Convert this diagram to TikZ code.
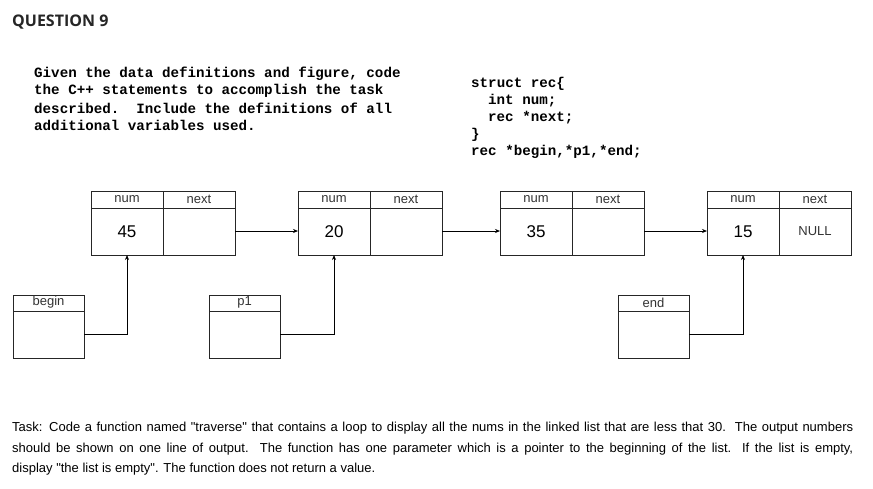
\documentclass[tikz,border=0pt]{standalone}
\usepackage{fontspec}
\setmainfont{Liberation Sans}
\newfontfamily\hdr{Open Sans}
\newfontfamily\cour{Liberation Mono}
\usetikzlibrary{arrows.meta}
\begin{document}
\begin{tikzpicture}[x=1pt,y=-1pt,
  bx/.style={draw=black!85,line width=0.7pt},
  hd/.style={font=\fontsize{13}{14}\selectfont,inner sep=0pt,text=black!80},
  val/.style={font=\fontsize{17}{18}\selectfont,inner sep=0pt},
  code/.style={font=\cour\bfseries\fontsize{14.2}{17}\selectfont,anchor=west,inner sep=0pt},
  task/.style={font=\fontsize{13}{14}\selectfont,anchor=west,inner sep=0pt},
  arr/.style={-{Stealth[length=5pt,width=4pt]},line width=0.7pt}]
\useasboundingbox[fill=white] (0,0) rectangle (873,488);
\node[anchor=west,inner sep=0pt,font=\hdr\bfseries\fontsize{16}{18}\selectfont,text=black!85] (q) at (12,22) {QUESTION 9};
\node[code] (g1) at (34,74) {Given the data definitions and figure, code};
\node[code] (g2) at (34,91) {the C++ statements to accomplish the task};
\node[code] (g3) at (34,108) {described.\ \ Include the definitions of all};
\node[code] (g4) at (34,125) {additional variables used.};
\node[code] (s1) at (471,84) {struct rec\{};
\node[code] (s2) at (488,101) {int num;};
\node[code] (s3) at (488,118) {rec *next;};
\node[code] (s4) at (471,135) {\}};
\node[code] (s5) at (471,152) {rec *begin,*p1,*end;};
% list nodes
\foreach \n/\x/\v in {a/91/45,b/298/20,c/500/35,d/707/15}{
  \draw[bx] (\x,191) rectangle (\x+144,255);
  \draw[bx] (\x,208) -- (\x+144,208);
  \draw[bx] (\x+72,191) -- (\x+72,255);
  \node[hd] (\n num) at (\x+36,199.5) {num};
  \node[hd] (\n nx) at (\x+108,199.5) {next};
  \node[val] (\n v) at (\x+36,231.5) {\v};
  \coordinate (\n L) at (\x,231);
  \coordinate (\n R) at (\x+144,231);
  \coordinate (\n B) at (\x+36,255);
}
\node[hd] (nul) at (815,231) {NULL};
\draw[arr] (aR) -- (bL);
\draw[arr] (bR) -- (cL);
\draw[arr] (cR) -- (dL);
% pointer boxes
\foreach \n/\x/\t in {pb/13/begin,pp/209/p1,pe/618/end}{
  \draw[bx] (\x,295) rectangle (\x+71,358);
  \draw[bx] (\x,311) -- (\x+71,311);
  \node[hd] (\n t) at (\x+35.5,302.5) {\t};
  \coordinate (\n R) at (\x+71,334);
}
\draw[arr] (pbR) -| (aB);
\draw[arr] (ppR) -| (bB);
\draw[arr] (peR) -| (dB);
\node[task] (t1) at (12,428) {\makebox[841pt][s]{Task: Code a function named \textquotedbl traverse\textquotedbl\ that contains a loop to display all the nums in the linked list that are less that 30.\ \ The output numbers}};
\node[task] (t2) at (12,449) {\makebox[841pt][s]{should be shown on one line of output.\ \ The function has one parameter which is a pointer to the beginning of the list. If the list is empty,}};
\node[task] (t3) at (12,469) {display \textquotedbl the list is empty\textquotedbl. The function does not return a value.};
\end{tikzpicture}
\end{document}
